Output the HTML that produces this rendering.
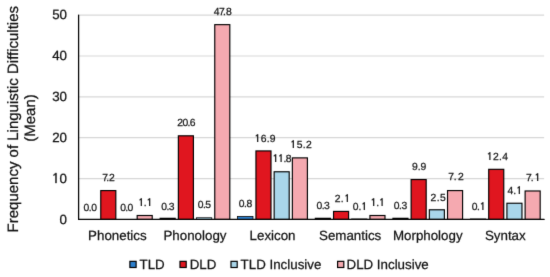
<!DOCTYPE html>
<html><head><meta charset="utf-8"><style>
html,body{margin:0;padding:0;background:#fff;}
body{width:550px;height:277px;overflow:hidden;}
svg{display:block;}
text{text-rendering:geometricPrecision;font-family:"Liberation Sans",Arial,sans-serif;fill:#111;stroke:#111;stroke-width:0.25px;}
.ax{font-size:13.33px;}
.yt{font-size:15px;}
.dl{fill:#161616;stroke:#161616;stroke-width:0.25px;}
.one{font-family:"NanumGothic","Liberation Sans",sans-serif;font-weight:bold;stroke-width:0.15px;}
.onet{font-family:"NanumGothic","Liberation Sans",sans-serif;stroke-width:0.5px;}
</style></head><body>
<svg width="550" height="277" viewBox="0 0 550 277">
<defs><filter id="soft" x="0" y="0" width="550" height="277" filterUnits="userSpaceOnUse" color-interpolation-filters="sRGB"><feConvolveMatrix order="3" kernelMatrix="0.0081 0.0738 0.0081 0.0738 0.6724 0.0738 0.0081 0.0738 0.0081" edgeMode="duplicate" preserveAlpha="true"/></filter></defs>
<g filter="url(#soft)">
<rect width="550" height="277" fill="#fff"/>
<line x1="78.6" y1="178.55" x2="544.14" y2="178.55" stroke="#d7d7d7" stroke-width="1.15"/>
<line x1="78.6" y1="137.68" x2="544.14" y2="137.68" stroke="#d7d7d7" stroke-width="1.15"/>
<line x1="78.6" y1="96.82" x2="544.14" y2="96.82" stroke="#d7d7d7" stroke-width="1.15"/>
<line x1="78.6" y1="55.95" x2="544.14" y2="55.95" stroke="#d7d7d7" stroke-width="1.15"/>
<line x1="78.6" y1="15.08" x2="544.14" y2="15.08" stroke="#d7d7d7" stroke-width="1.15"/>
<text x="67" y="223.82" text-anchor="end" class="ax">0</text>
<text x="67" y="182.95" text-anchor="end" class="ax"><tspan class="onet">1</tspan>0</text>
<text x="67" y="142.08" text-anchor="end" class="ax">20</text>
<text x="67" y="101.22" text-anchor="end" class="ax">30</text>
<text x="67" y="60.35" text-anchor="end" class="ax">40</text>
<text x="67" y="19.48" text-anchor="end" class="ax">50</text>
<rect x="100.77" y="190.57" width="15.05" height="28.85" fill="#E0161F" stroke="#000" stroke-width="1.15"/>
<rect x="137.17" y="215.50" width="15.05" height="3.92" fill="#F5A9B0" stroke="#000" stroke-width="1.15"/>
<text x="117.39" y="240.2" text-anchor="middle" class="ax">Phonetics</text>
<rect x="159.58" y="217.74" width="16.20" height="1.68" fill="#000"/>
<rect x="178.36" y="135.81" width="15.05" height="83.61" fill="#E0161F" stroke="#000" stroke-width="1.15"/>
<rect x="196.38" y="217.78" width="15.40" height="1.64" fill="#A9D6EA" stroke="#000" stroke-width="0.8"/>
<rect x="214.76" y="24.65" width="15.05" height="194.77" fill="#F5A9B0" stroke="#000" stroke-width="1.15"/>
<text x="194.98" y="240.2" text-anchor="middle" class="ax">Phonology</text>
<rect x="237.57" y="216.55" width="15.40" height="2.87" fill="#2C7FCC" stroke="#000" stroke-width="0.8"/>
<rect x="255.95" y="150.93" width="15.05" height="68.49" fill="#E0161F" stroke="#000" stroke-width="1.15"/>
<rect x="274.15" y="171.77" width="15.05" height="47.65" fill="#A9D6EA" stroke="#000" stroke-width="1.15"/>
<rect x="292.35" y="157.88" width="15.05" height="61.54" fill="#F5A9B0" stroke="#000" stroke-width="1.15"/>
<text x="272.57" y="240.2" text-anchor="middle" class="ax">Lexicon</text>
<rect x="314.76" y="217.74" width="16.20" height="1.68" fill="#000"/>
<rect x="333.54" y="211.41" width="15.05" height="8.01" fill="#E0161F" stroke="#000" stroke-width="1.15"/>
<rect x="351.16" y="218.56" width="16.20" height="0.86" fill="#000"/>
<rect x="369.94" y="215.50" width="15.05" height="3.92" fill="#F5A9B0" stroke="#000" stroke-width="1.15"/>
<text x="350.17" y="240.2" text-anchor="middle" class="ax">Semantics</text>
<rect x="392.35" y="217.74" width="16.20" height="1.68" fill="#000"/>
<rect x="411.13" y="179.54" width="15.05" height="39.88" fill="#E0161F" stroke="#000" stroke-width="1.15"/>
<rect x="429.33" y="209.78" width="15.05" height="9.64" fill="#A9D6EA" stroke="#000" stroke-width="1.15"/>
<rect x="447.53" y="190.57" width="15.05" height="28.85" fill="#F5A9B0" stroke="#000" stroke-width="1.15"/>
<text x="427.75" y="240.2" text-anchor="middle" class="ax">Morphology</text>
<rect x="469.94" y="218.56" width="16.20" height="0.86" fill="#000"/>
<rect x="488.72" y="169.32" width="15.05" height="50.10" fill="#E0161F" stroke="#000" stroke-width="1.15"/>
<rect x="506.92" y="203.24" width="15.05" height="16.18" fill="#A9D6EA" stroke="#000" stroke-width="1.15"/>
<rect x="525.12" y="190.98" width="15.05" height="28.44" fill="#F5A9B0" stroke="#000" stroke-width="1.15"/>
<text x="505.34" y="240.2" text-anchor="middle" class="ax">Syntax</text>
<path d="M78.6,15.08 L78.6,219.42 L544.14,219.42" fill="none" stroke="#000" stroke-width="1.25" stroke-linejoin="round" stroke-linecap="round"/>
<text x="90.11" y="210.75" text-anchor="middle" class="dl" style="letter-spacing:-0.402px;font-size:10.35px">0.0</text>
<text x="108.19" y="180.77" text-anchor="middle" class="dl" style="letter-spacing:-0.610px;font-size:10.35px">7<tspan dx="-1.1">.</tspan><tspan dx="0.55">2</tspan></text>
<text x="126.37" y="210.86" text-anchor="middle" class="dl" style="letter-spacing:-0.670px;font-size:10.35px">0.0</text>
<text x="145.02" y="205.77" text-anchor="middle" class="dl" style="letter-spacing:-0.426px;font-size:10.35px"><tspan class="one">1</tspan>.<tspan class="one">1</tspan></text>
<text x="167.61" y="210.08" text-anchor="middle" class="dl" style="letter-spacing:-0.526px;font-size:10.35px">0.3</text>
<text x="186.10" y="126.23" text-anchor="middle" class="dl" style="letter-spacing:-0.640px;font-size:10.35px">20.6</text>
<text x="204.14" y="208.43" text-anchor="middle" class="dl" style="letter-spacing:-0.474px;font-size:10.35px">0.5</text>
<text x="222.50" y="15.02" text-anchor="middle" class="dl" style="letter-spacing:-0.476px;font-size:10.35px">47<tspan dx="-1.1">.</tspan><tspan dx="0.55">8</tspan></text>
<text x="245.33" y="207.42" text-anchor="middle" class="dl" style="letter-spacing:-0.326px;font-size:10.35px">0.8</text>
<text x="265.07" y="142.23" text-anchor="middle" class="dl" style="letter-spacing:0.197px;font-size:10.35px"><tspan class="one">1</tspan>6.9</text>
<text x="281.56" y="162.45" text-anchor="middle" class="dl" style="letter-spacing:-0.617px;font-size:10.35px"><tspan class="one">1</tspan><tspan class="one">1</tspan>.8</text>
<text x="301.15" y="148.19" text-anchor="middle" class="dl" style="letter-spacing:0.351px;font-size:10.35px"><tspan class="one">1</tspan>5.2</text>
<text x="322.88" y="209.24" text-anchor="middle" class="dl" style="letter-spacing:-0.626px;font-size:10.35px">0.3</text>
<text x="342.76" y="202.27" text-anchor="middle" class="dl" style="letter-spacing:0.354px;font-size:10.35px">2.<tspan class="one">1</tspan></text>
<text x="360.00" y="210.48" text-anchor="middle" class="dl" style="letter-spacing:-0.202px;font-size:10.35px">0.<tspan class="one">1</tspan></text>
<text x="377.56" y="206.32" text-anchor="middle" class="dl" style="letter-spacing:-0.278px;font-size:10.35px"><tspan class="one">1</tspan>.<tspan class="one">1</tspan></text>
<text x="400.39" y="209.24" text-anchor="middle" class="dl" style="letter-spacing:-0.378px;font-size:10.35px">0.3</text>
<text x="419.06" y="170.01" text-anchor="middle" class="dl" style="letter-spacing:-0.062px;font-size:10.35px">9.9</text>
<text x="438.34" y="200.52" text-anchor="middle" class="dl" style="letter-spacing:0.474px;font-size:10.35px">2.5</text>
<text x="456.42" y="180.41" text-anchor="middle" class="dl" style="letter-spacing:0.890px;font-size:10.35px">7<tspan dx="-1.1">.</tspan><tspan dx="0.55">2</tspan></text>
<text x="478.58" y="210.39" text-anchor="middle" class="dl" style="letter-spacing:-0.370px;font-size:10.35px">0.<tspan class="one">1</tspan></text>
<text x="497.32" y="159.78" text-anchor="middle" class="dl" style="letter-spacing:0.242px;font-size:10.35px"><tspan class="one">1</tspan>2.4</text>
<text x="514.89" y="194.36" text-anchor="middle" class="dl" style="letter-spacing:-0.046px;font-size:10.35px">4.<tspan class="one">1</tspan></text>
<text x="533.32" y="181.44" text-anchor="middle" class="dl" style="letter-spacing:0.122px;font-size:10.35px">7<tspan dx="-1.1">.</tspan><tspan class="one" dx="0.55">1</tspan></text>
<text transform="translate(17.5,119.2) rotate(-90)" text-anchor="middle" class="yt">Frequency of Linguistic Difficulties</text>
<text transform="translate(34.7,118) rotate(-90)" text-anchor="middle" class="yt">(Mean)</text>
<rect x="129.90" y="261.35" width="6.2" height="6.15" fill="#2C7FCC" stroke="#000" stroke-width="1.2"/>
<text x="139.5" y="268.9" class="ax">TLD</text>
<rect x="180.00" y="261.35" width="6.2" height="6.15" fill="#E0161F" stroke="#000" stroke-width="1.2"/>
<text x="189.7" y="268.9" class="ax">DLD</text>
<rect x="231.00" y="261.35" width="6.2" height="6.15" fill="#A9D6EA" stroke="#000" stroke-width="1.2"/>
<text x="240.6" y="268.9" class="ax">TLD Inclusive</text>
<rect x="337.60" y="261.35" width="6.2" height="6.15" fill="#F5A9B0" stroke="#000" stroke-width="1.2"/>
<text x="346.5" y="268.9" class="ax">DLD Inclusive</text>
</g>
</svg>
</body></html>
